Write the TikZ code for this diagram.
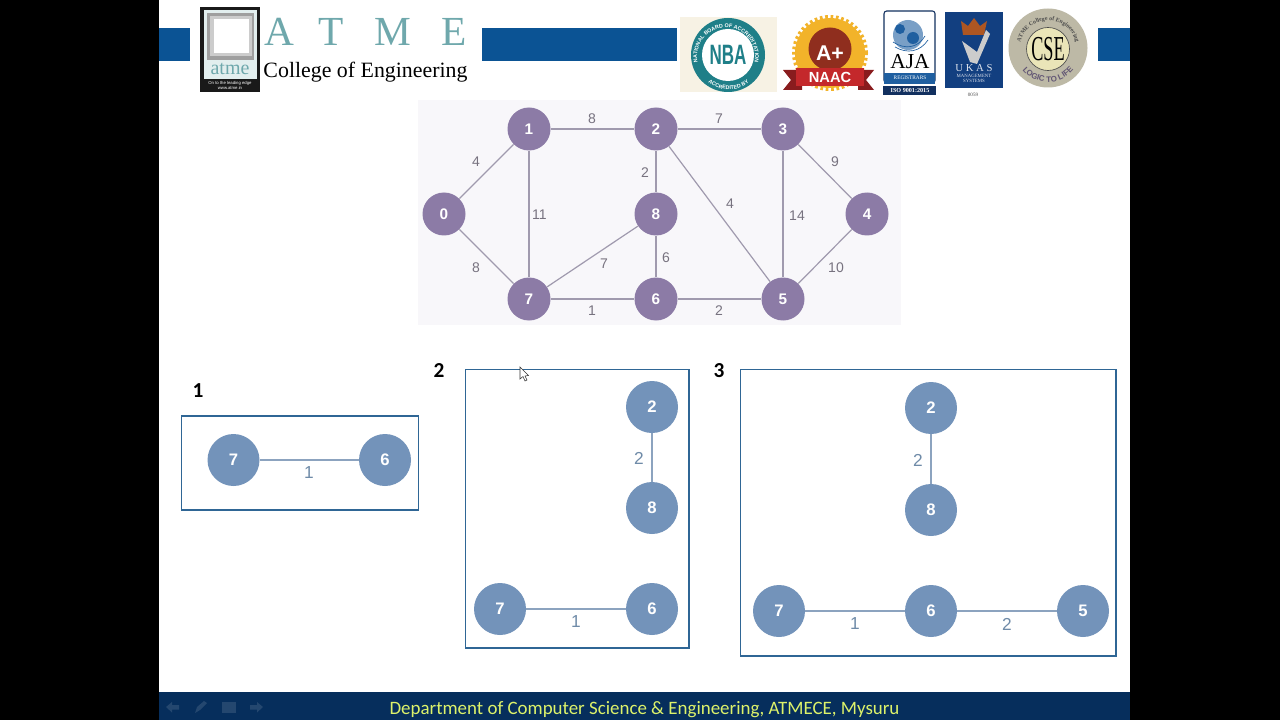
\documentclass[tikz,border=0pt]{standalone}
\usepackage{fontspec}
\setmainfont{Liberation Sans}
\newfontfamily\calib{Carlito}
\newfontfamily\serifx{Liberation Serif}
\usetikzlibrary{decorations.text}
\definecolor{barblue}{HTML}{0B5394}
\definecolor{footnavy}{HTML}{062E5C}
\definecolor{footyellow}{HTML}{DDF26A}
\definecolor{purplenode}{HTML}{8C7BA6}
\definecolor{purpleedge}{HTML}{A09AAE}
\definecolor{purplelabel}{HTML}{77727F}
\definecolor{panelbg}{HTML}{F8F7FA}
\definecolor{bluenode}{HTML}{7393BA}
\definecolor{blueedge}{HTML}{8CA3BF}
\definecolor{bluelabel}{HTML}{6F8BA8}
\definecolor{boxline}{HTML}{2F6695}
\definecolor{atmeteal}{HTML}{6FA8AC}
\definecolor{nbateal}{HTML}{1F7F88}
\definecolor{nbabg}{HTML}{F7F2E4}
\definecolor{naacgold}{HTML}{F2B32A}
\definecolor{naacred}{HTML}{C4282B}
\definecolor{naacbrown}{HTML}{8F2E1E}
\definecolor{ajablue}{HTML}{1F5FA0}
\definecolor{ajanavy}{HTML}{12305F}
\definecolor{ukasblue}{HTML}{123F80}
\definecolor{cseouter}{HTML}{BDB9A6}
\definecolor{cseinner}{HTML}{EAE5B8}
\tikzset{
  x=0.75pt,y=0.75pt,
  gnode/.style={circle,fill=purplenode,text=white,minimum size=32.25pt,inner sep=0pt,font=\fontsize{11.5}{12}\selectfont\bfseries},
  gedge/.style={draw=purpleedge,line width=0.9pt},
  glabel/.style={text=purplelabel,inner sep=0pt,font=\fontsize{10.5}{12}\selectfont},
  bnode/.style={circle,fill=bluenode,text=white,minimum size=39pt,inner sep=0pt,font=\fontsize{12.5}{13}\selectfont\bfseries},
  bedge/.style={draw=blueedge,line width=0.9pt},
  blabel/.style={text=bluelabel,inner sep=0pt,font=\fontsize{13}{14}\selectfont},
  framebox/.style={draw=boxline,fill=white,line width=0.85pt},
  steptitle/.style={inner sep=0pt,font=\fontsize{16}{17}\selectfont\bfseries\calib},
  bar/.style={fill=barblue,draw=none},
  bigletter/.style={text=atmeteal,inner sep=0pt,font=\fontsize{31}{31}\selectfont\serifx},
  ringtext/.style={decorate,decoration={text along path,text align=center,#1}}
}
\begin{document}
\begin{tikzpicture}
\useasboundingbox (0,0) rectangle (1280,-720);
\fill[black] (0,0) rectangle (1280,-720);
\fill[white] (159,0) rectangle (1130,-692);
\fill[footnavy] (159,-692) rectangle (1130,-720);
% header bars
\fill[bar] (159,-28) rectangle (190,-61);
\fill[bar] (482,-28) rectangle (677,-61);
\fill[bar] (1098,-28) rectangle (1130,-61);
% ATME logo
\fill[black!90] (200,-7) rectangle (260,-92);
\fill[white!80!atmeteal] (204,-10) rectangle (257,-79);
\fill[gray!75] (207,-13) rectangle (254,-60);
\fill[gray!40] (210,-16) rectangle (252,-56);
\fill[white] (214,-19) rectangle (249,-53);
\node[text=atmeteal,inner sep=0pt,font=\fontsize{15}{15}\selectfont\serifx] (atmesmall) at (230,-69) {atme};
\node[text=white,inner sep=0pt,font=\fontsize{3.2}{4}\selectfont] (atmetag) at (230,-83) {On to the leading edge};
\node[text=white,inner sep=0pt,font=\fontsize{3.2}{4}\selectfont] (atmeweb) at (230,-88) {www.atme.in};
\node[bigletter] (la) at (279,-32) {A};
\node[bigletter] (lt) at (331,-32) {T};
\node[bigletter] (lm) at (393,-32) {M};
\node[bigletter] (le) at (454,-32) {E};
\node[inner sep=0pt,font=\fontsize{16.4}{17}\selectfont\serifx] (coll) at (365.5,-72) {College of Engineering};
% NBA
\fill[nbabg] (680,-17) rectangle (777,-92);
\fill[nbateal] (728,-55) circle (37);
\fill[white] (728,-55) circle (26);
\node[text=nbateal,inner sep=0pt,font=\fontsize{15}{15}\selectfont\bfseries] (nba) at (728,-55) {\scalebox{0.85}[1.4]{NBA}};
\path[ringtext={text color=white,text={|\fontsize{4}{5}\selectfont\bfseries|NATIONAL BOARD OF ACCREDITATION}}] (703.9,-75.2) arc (220:-40:29);
\path[ringtext={text color=white,text={|\fontsize{4}{5}\selectfont\bfseries|ACCREDITED BY}}] (705,-80) arc (226:314:34);
% NAAC
\fill[naacgold] (830,-53) circle (35);
\draw[naacgold,line width=3pt,dash pattern=on 2pt off 2pt] (830,-53) circle (36);
\fill[naacbrown] (830,-49) circle (21.5);
\node[text=white,inner sep=0pt,font=\fontsize{16}{16}\selectfont\bfseries] (aplus) at (830,-53) {A+};
\fill[naacred!70!black] (783,-90) -- (791,-80) -- (783,-70) -- (802,-70) -- (802,-90) -- cycle;
\fill[naacred!70!black] (874,-90) -- (866,-80) -- (874,-70) -- (858,-70) -- (858,-90) -- cycle;
\fill[naacred] (796,-68) rectangle (864,-86);
\node[text=white,inner sep=0pt,font=\fontsize{11}{11}\selectfont\bfseries] (naac) at (830,-77) {NAAC};
% AJA
\draw[ajanavy,fill=white,rounded corners=2pt,line width=0.8pt] (884,-11) rectangle (935,-83);
\fill[ajablue!60!white] (908,-35) circle (15);
\fill[ajablue] (900,-29) circle (5);
\fill[ajablue] (913,-38) circle (6);
\draw[ajablue,line width=0.5pt] (893,-42) .. controls (905,-50) and (918,-48) .. (925,-36);
\draw[ajablue,line width=0.5pt] (895,-47) .. controls (907,-54) and (920,-52) .. (928,-40);
\node[inner sep=0pt,font=\fontsize{16}{16}\selectfont\serifx] (aja) at (910,-62) {AJA};
\fill[ajablue] (884,-73) rectangle (935,-84);
\node[text=white,inner sep=0pt,font=\fontsize{4}{4}\selectfont\serifx] (ajar) at (910,-78) {REGISTRARS};
\fill[ajanavy] (883,-86) rectangle (936,-95);
\node[text=white,inner sep=0pt,font=\fontsize{4.6}{5}\selectfont\bfseries\serifx] (ajaiso) at (910,-90.5) {ISO 9001:2015};
% UKAS
\fill[ukasblue] (945,-12) rectangle (1003,-88);
\fill[naacbrown!70!naacgold] (963,-35) -- (961,-21) -- (968,-26) -- (974,-18) -- (980,-26) -- (987,-21) -- (984,-35) -- cycle;
\fill[gray!40] (962,-41) -- (977,-52) -- (986,-30) -- (990,-34) -- (977,-64) -- (970,-62) -- cycle;
\node[text=white!85!ukasblue,inner sep=0pt,font=\fontsize{8}{8}\selectfont\serifx] (ukas) at (974,-68) {U K A S};
\node[text=white!85!ukasblue,inner sep=0pt,font=\fontsize{3.6}{4}\selectfont\serifx] (ukasm) at (974,-76) {MANAGEMENT};
\node[text=white!85!ukasblue,inner sep=0pt,font=\fontsize{3.6}{4}\selectfont\serifx] (ukass) at (974,-81) {SYSTEMS};
\node[text=black!70,inner sep=0pt,font=\fontsize{3.8}{4}\selectfont\serifx] (ukasn) at (973,-95) {0059};
% CSE
\fill[cseouter] (1048,-48) circle (39.5);
\fill[cseinner] (1048,-49) circle (21.5);
\draw[black!70,line width=0.5pt] (1048,-49) circle (21.5);
\node[inner sep=0pt,font=\fontsize{21}{21}\selectfont\serifx] (cse) at (1048,-49) {\scalebox{0.65}[1.25]{CSE}};
\path[ringtext={text color=black!70,text={|\fontsize{4.4}{5}\selectfont\bfseries\serifx|ATME College of Engineering}}] (1020,-54) arc (190:-10:28.5);
\path[ringtext={text color=purplenode!70!black,text={|\fontsize{6}{7}\selectfont\bfseries|LOGIC TO LIFE}}] (1018,-63) arc (205:335:33);
% graph panel
\fill[panelbg] (418,-100) rectangle (901,-325);
\node[gnode] (g0) at (444,-214) {0};
\node[gnode] (g1) at (529,-129) {1};
\node[gnode] (g2) at (656,-129) {2};
\node[gnode] (g3) at (783,-129) {3};
\node[gnode] (g4) at (867,-214) {4};
\node[gnode] (g5) at (783,-299) {5};
\node[gnode] (g6) at (656,-299) {6};
\node[gnode] (g7) at (529,-299) {7};
\node[gnode] (g8) at (656,-214) {8};
\foreach \a/\b in {g0/g1,g0/g7,g1/g2,g1/g7,g2/g3,g2/g8,g2/g5,g3/g4,g3/g5,g4/g5,g5/g6,g6/g7,g6/g8,g7/g8}
  \draw[gedge] (\a) -- (\b);
\node[glabel] (w01) at (476,-162) {4};
\node[glabel] (w07) at (476,-268) {8};
\node[glabel] (w12) at (592,-119) {8};
\node[glabel] (w17) at (539.5,-215) {11};
\node[glabel] (w23) at (719,-119) {7};
\node[glabel] (w28) at (645,-173) {2};
\node[glabel] (w25) at (730,-204) {4};
\node[glabel] (w34) at (835,-162) {9};
\node[glabel] (w35) at (797,-216) {14};
\node[glabel] (w45) at (836,-268) {10};
\node[glabel] (w56) at (719,-311) {2};
\node[glabel] (w67) at (592,-311) {1};
\node[glabel] (w68) at (666,-258) {6};
\node[glabel] (w78) at (604,-264) {7};
% step titles
\node[steptitle] (t1) at (198,-391) {1};
\node[steptitle] (t2) at (439,-371) {2};
\node[steptitle] (t3) at (719,-371) {3};
% box 1
\filldraw[framebox] (181.5,-416) rectangle (418.5,-510);
\node[bnode] (a7) at (233.5,-460) {7};
\node[bnode] (a6) at (385,-460) {6};
\draw[bedge] (a7) -- (a6);
\node[blabel] (aw) at (309,-473) {1};
% box 2
\filldraw[framebox] (465.5,-369.5) rectangle (689,-648);
\node[bnode] (b2) at (652,-407) {2};
\node[bnode] (b8) at (652,-508) {8};
\node[bnode] (b7) at (500,-609) {7};
\node[bnode] (b6) at (652,-609) {6};
\draw[bedge] (b2) -- (b8);
\draw[bedge] (b7) -- (b6);
\node[blabel] (bw1) at (639,-458) {2};
\node[blabel] (bw2) at (576,-622) {1};
% box 3
\filldraw[framebox] (740.5,-369.5) rectangle (1116,-656);
\node[bnode] (c2) at (931,-408) {2};
\node[bnode] (c8) at (931,-510) {8};
\node[bnode] (c7) at (779,-611) {7};
\node[bnode] (c6) at (931,-611) {6};
\node[bnode] (c5) at (1083,-611) {5};
\draw[bedge] (c2) -- (c8);
\draw[bedge] (c7) -- (c6);
\draw[bedge] (c6) -- (c5);
\node[blabel] (cw1) at (918,-460) {2};
\node[blabel] (cw2) at (855,-624) {1};
\node[blabel] (cw3) at (1007,-624) {2};
% cursor
\filldraw[fill=white,draw=black!80,line width=0.4pt] (520,-367) -- (520,-379) -- (523,-376.5) -- (525,-381) -- (527,-380) -- (525,-376) -- (528.5,-375.5) -- cycle;
% footer
\node[text=footyellow,inner sep=0pt,font=\fontsize{14.2}{15}\selectfont\calib] (foot) at (644.5,-709.5) {Department of Computer Science \& Engineering, ATMECE, Mysuru};
\fill[footnavy!88!white] (166,-707) -- (172,-702) -- (172,-705) -- (179,-705) -- (179,-709.5) -- (172,-709.5) -- (172,-712.5) -- cycle;
\fill[footnavy!88!white] (195,-713) -- (197,-707) -- (204,-701) -- (207,-703) -- (200,-710) -- cycle;
\fill[footnavy!88!white] (222,-702) rectangle (236,-713);
\fill[footnavy!88!white] (263,-707) -- (257,-702) -- (257,-705) -- (250,-705) -- (250,-709.5) -- (257,-709.5) -- (257,-712.5) -- cycle;
\end{tikzpicture}
\end{document}
